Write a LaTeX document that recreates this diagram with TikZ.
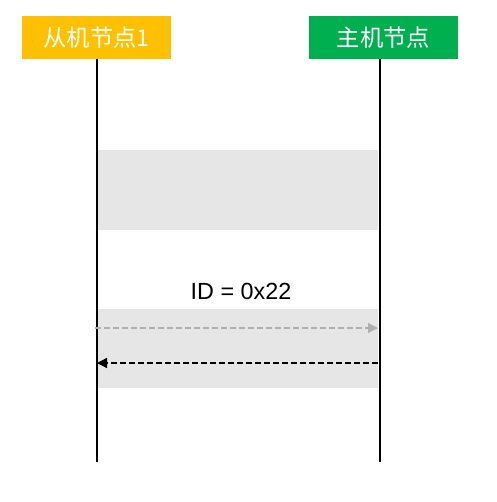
\documentclass[tikz,border=0pt]{standalone}
\usepackage{fontspec}
\setmainfont{Liberation Sans}
\newfontfamily\cjkfont{Noto Sans CJK SC}
\usetikzlibrary{arrows.meta}
\definecolor{slaveyellow}{HTML}{FFC000}
\definecolor{mastergreen}{HTML}{00B050}
\definecolor{bandgray}{HTML}{E6E6E6}
\definecolor{arrowgray}{HTML}{B0B0B0}
\tikzset{
  header/.style={minimum width=111.75pt, minimum height=32.25pt, inner sep=0pt,
    text=white, font=\cjkfont\fontsize{17.5}{20}\selectfont},
  lifeline/.style={line width=1.5pt},
  msg/.style={line width=1.1pt, dash pattern=on 4.5pt off 2.25pt,
    -{Triangle[length=7.5pt, width=7.5pt]}},
}

\begin{document}
\begin{tikzpicture}[x=0.75pt, y=-0.75pt]
\useasboundingbox (0,0) rectangle (496,502);
% shaded phases
\fill[bandgray] (98,150) rectangle (378,230);
\fill[bandgray] (98,309) rectangle (378,388);
% participants
\node[header, fill=slaveyellow] (slave) at (96.5,37.5) {从机节点1};
\node[header, fill=mastergreen] (master) at (383.5,37.5) {主机节点};
\coordinate (slavetop) at (97,59);
\coordinate (slavebot) at (97,462);
\coordinate (mastertop) at (380,59);
\coordinate (masterbot) at (380,462);
\draw[lifeline] (slavetop) -- (slavebot);
\draw[lifeline] (mastertop) -- (masterbot);
% messages
\node[font=\fontsize{17.5}{20}\selectfont] (idlabel) at (241,291) {ID = 0x22};
\coordinate (reqfrom) at (95,328);
\coordinate (reqto) at (378,328);
\coordinate (respfrom) at (378,363);
\coordinate (respto) at (97,363);
\draw[msg, arrowgray] (reqfrom) -- (reqto);
\draw[msg, black] (respfrom) -- (respto);
\end{tikzpicture}
\end{document}
